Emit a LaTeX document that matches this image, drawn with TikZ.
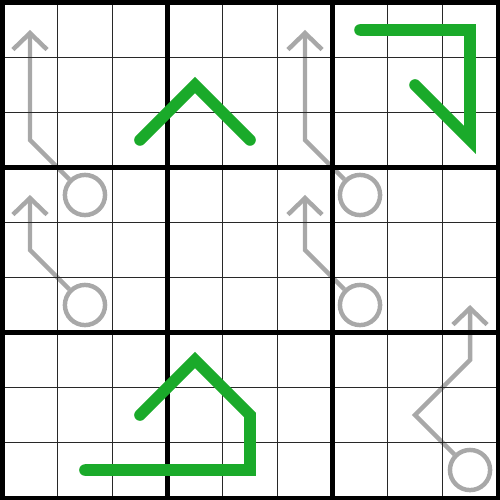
\documentclass[tikz,border=0pt]{standalone}
\usetikzlibrary{arrows.meta}
\definecolor{grn}{RGB}{26,170,42}
\definecolor{gry}{RGB}{168,168,168}
\tikzset{
  thin grid/.style={line width=1pt,draw={rgb,255:red,40;green,40;blue,40}},
  thick grid/.style={line width=2.1pt,draw=black},
  greyline/.style={gry,line width=2.3pt,-{Straight Barb[length=0.3cm,width=0.62cm,line width=2.3pt]}},
  bulb/.style={circle,draw=gry,line width=2.3pt,minimum size=0.73cm,inner sep=0pt},
  greenline/.style={grn,line width=6pt,line cap=round,line join=miter}
}
\begin{document}
\begin{tikzpicture}[x=1cm,y=-1cm]
\useasboundingbox (-0.045,-0.045) rectangle (9.045,9.045);
\fill[white] (-0.045,-0.045) rectangle (9.045,9.045);
% cell centres
\foreach \r in {0,...,8}{\foreach \c in {0,...,8}{\coordinate (r\r c\c) at (\c+0.5,\r+0.5);}}
% bulbs
\node[bulb] (b1) at (r3c1) {};
\node[bulb] (b2) at (r5c1) {};
\node[bulb] (b3) at (r3c6) {};
\node[bulb] (b4) at (r5c6) {};
\node[bulb] (b5) at (r8c8) {};
% grey arrows
\draw[greyline] (b1) -- (r2c0) -- (r0c0);
\draw[greyline] (b2) -- (r4c0) -- (r3c0);
\draw[greyline] (b3) -- (r2c5) -- (r0c5);
\draw[greyline] (b4) -- (r4c5) -- (r3c5);
\draw[greyline] (b5) -- (r7c7) -- (r6c8) -- (r5c8);
% grid
\foreach \i in {1,2,4,5,7,8}{
  \draw[thin grid] (\i,0) -- (\i,9);
  \draw[thin grid] (0,\i) -- (9,\i);
}
\foreach \i in {3,6}{
  \draw[thick grid] (\i,0) -- (\i,9);
  \draw[thick grid] (0,\i) -- (9,\i);
}
\draw[thick grid] (0,0) rectangle (9,9);
% green lines
\draw[greenline] (r2c2) -- (r1c3) -- (r2c4);
\draw[greenline] (r0c6) -- (r0c8) -- (r2c8) -- (r1c7);
\draw[greenline] (r8c1) -- (r8c4) -- (r7c4) -- (r6c3) -- (r7c2);
\end{tikzpicture}
\end{document}
